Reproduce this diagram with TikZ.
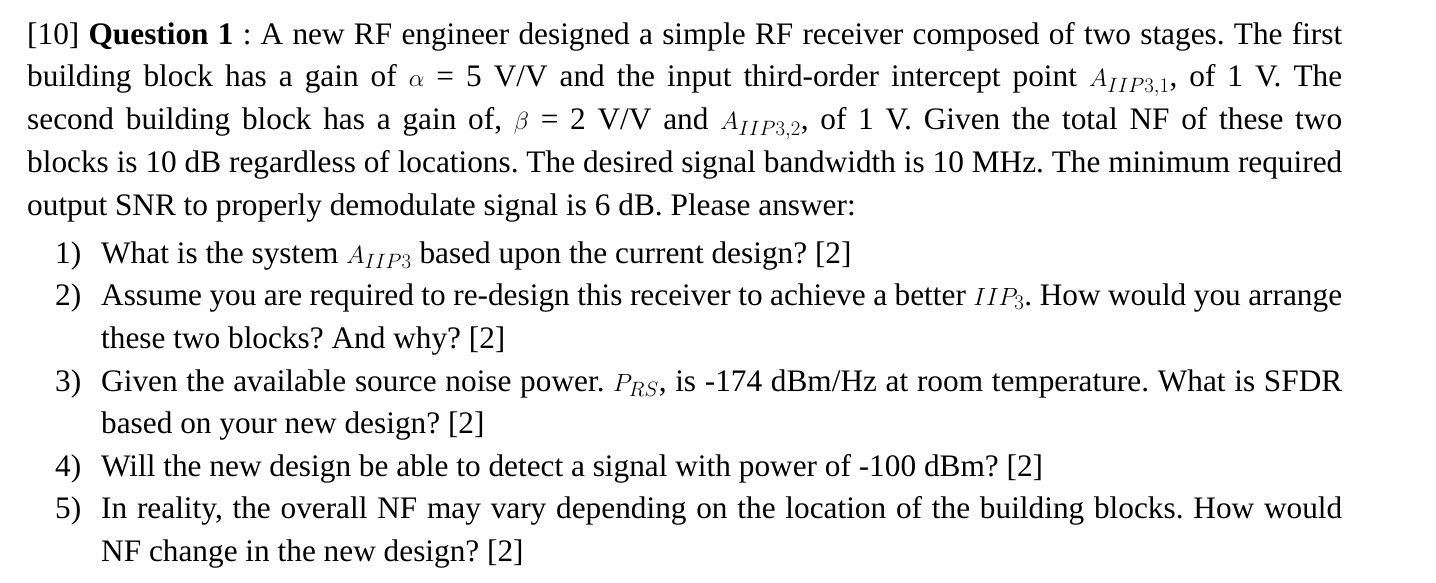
\documentclass[tikz,border=0pt]{standalone}
\usepackage{fontspec}
\setmainfont{Liberation Serif}
\frenchspacing
\newcommand{\jline}[2]{\parbox[b]{#1pt}{\frenchspacing\hbadness=10000\hfuzz=50pt\parfillskip=0pt\noindent\strut #2}}
\newcommand{\rline}[2]{\parbox[b]{#1pt}{\frenchspacing\noindent\strut #2}}
\begin{document}
\begin{tikzpicture}[x=1pt,y=1pt,txt/.style={anchor=base west,inner sep=0pt,font=\fontsize{31.3}{36}\selectfont}]
\useasboundingbox (0,0) rectangle (1436,-583);
\node[txt] (l1) at (27,-45) {\jline{1315}{[10] \textbf{Question 1} : A new RF engineer designed a simple RF receiver composed of two stages. The first}};
\node[txt] (l2) at (27,-87) {\jline{1315}{building block has a gain of $\alpha$ = 5 V/V and the input third-order intercept point $A_{IIP3,1}$, of 1 V. The}};
\node[txt] (l3) at (27,-130) {\jline{1315}{second building block has a gain of, $\beta$ = 2 V/V and $A_{IIP3,2}$, of 1 V. Given the total NF of these two}};
\node[txt] (l4) at (27,-172) {\jline{1315}{blocks is 10 dB regardless of locations. The desired signal bandwidth is 10 MHz. The minimum required}};
\node[txt] (l5) at (27,-215) {\rline{1315}{output SNR to properly demodulate signal is 6 dB. Please answer:}};
\node[txt] (n1) at (55,-263) {1)};
\node[txt] (i1) at (101,-263) {\rline{1241}{What is the system $A_{IIP3}$ based upon the current design? [2]}};
\node[txt] (n2) at (55,-305) {2)};
\node[txt] (i2a) at (101,-305) {\jline{1241}{Assume you are required to re-design this receiver to achieve a better $IIP_3$. How would you arrange}};
\node[txt] (i2b) at (101,-348) {\rline{1241}{these two blocks? And why? [2]}};
\node[txt] (n3) at (55,-391) {3)};
\node[txt] (i3a) at (101,-391) {\jline{1241}{Given the available source noise power. $P_{RS}$, is -174 dBm/Hz at room temperature. What is SFDR}};
\node[txt] (i3b) at (101,-433) {\rline{1241}{based on your new design? [2]}};
\node[txt] (n4) at (55,-476) {4)};
\node[txt] (i4) at (101,-476) {\rline{1241}{Will the new design be able to detect a signal with power of -100 dBm? [2]}};
\node[txt] (n5) at (55,-518) {5)};
\node[txt] (i5a) at (101,-518) {\jline{1241}{In reality, the overall NF may vary depending on the location of the building blocks. How would}};
\node[txt] (i5b) at (101,-561) {\rline{1241}{NF change in the new design? [2]}};
\end{tikzpicture}
\end{document}
